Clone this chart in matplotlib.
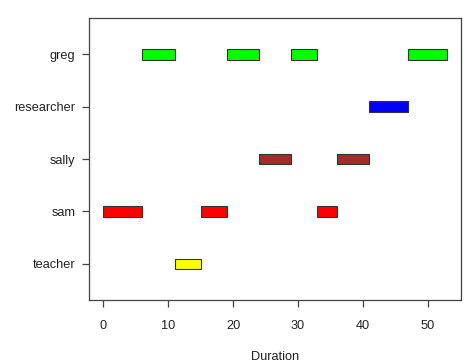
import matplotlib
matplotlib.use('Agg')
import matplotlib.pyplot as plt

# tasks (start, end) per person
people = ['teacher', 'sam', 'sally', 'researcher', 'greg']
colors = {'greg': '#00FF00', 'researcher': '#0000FF', 'sally': '#A52A2A',
          'sam': '#FF0000', 'teacher': '#FFFF00'}
starts = {'greg': [6, 19, 29, 47],
          'researcher': [41],
          'sally': [24, 36],
          'sam': [0, 15, 33],
          'teacher': [11]}
ends = {'greg': [11, 24, 33, 53],
        'researcher': [47],
        'sally': [29, 41],
        'sam': [6, 19, 36],
        'teacher': [15]}

plt.rcParams['font.family'] = ['Liberation Sans', 'DejaVu Sans']

fig = plt.figure(figsize=(4.74, 3.61), dpi=100)
ax = fig.add_axes([0.1888, 0.1676, 0.9726 - 0.1888, 0.951 - 0.1676])

for i, p in enumerate(people, start=1):
    s = starts[p]
    w = [e - b for b, e in zip(s, ends[p])]
    ax.barh([i] * len(s), w, left=s, height=0.2, color=colors[p],
            edgecolor='#333333', linewidth=0.8)

ax.set_xlim(-2.12, 55.12)
ax.set_ylim(0.3, 5.7)
ax.set_xticks([0, 10, 20, 30, 40, 50])
ax.set_yticks(range(1, len(people) + 1))
ax.set_yticklabels(people)

for sp in ax.spines.values():
    sp.set_color('#444444')
    sp.set_linewidth(0.9)
ax.tick_params(direction='out', length=5, width=0.9, color='#444444',
               labelsize=9.2, labelcolor='#222222', pad=9)
ax.tick_params(axis='y', pad=5)
ax.set_xlabel('Duration', fontsize=9.2, color='#222222', labelpad=14)

fig.savefig('out.png', dpi=100)
